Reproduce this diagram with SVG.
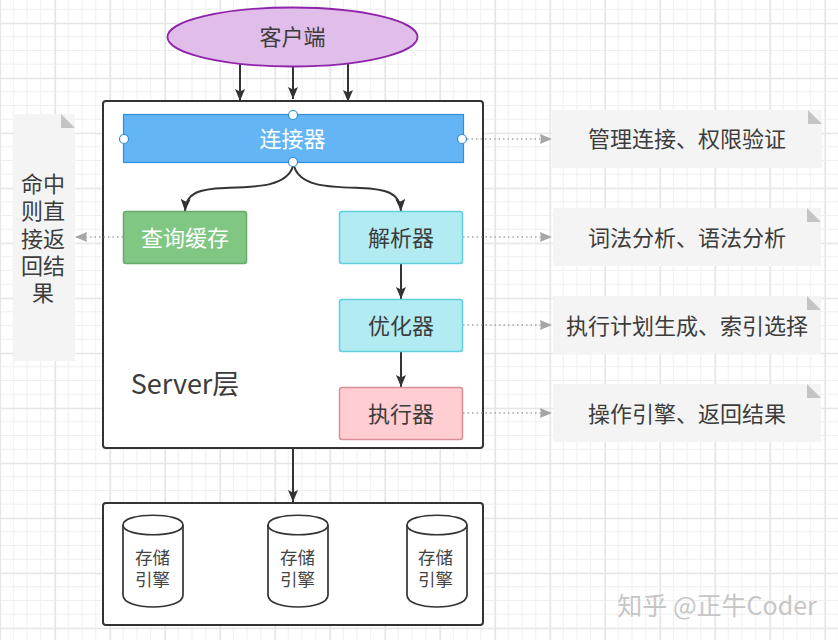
<svg xmlns="http://www.w3.org/2000/svg" width="838" height="640" viewBox="0 0 838 640">
<style>
text{font-family:"Noto Sans CJK SC","Liberation Sans",sans-serif;fill:#3c3c3c;text-anchor:middle}
.t{font-size:22px}.w{fill:#fff}.s{font-size:17.5px;fill:#444}
.n{font-family:"Liberation Sans","Noto Sans CJK SC",sans-serif}
.box{fill:#fff;stroke:#333;stroke-width:2}
.note{fill:#f4f4f4}.fold{fill:#c4c4c4}
.c{fill:none;stroke:#333;stroke-width:2}
.e{fill:none;stroke:#333;stroke-width:1.7}
.d{fill:none;stroke:#a6a6a6;stroke-width:1.5;stroke-dasharray:1.5 3}
.cyl{fill:#fff;stroke:#333;stroke-width:1.700}
.h{fill:#fff;stroke:#2f8fdc;stroke-width:1.2}
</style>
<defs>
<pattern id="g" width="13.75" height="13.75" patternUnits="userSpaceOnUse" y="-4">
<path d="M13.25 0V13.75M0 13.25H13.75" fill="none" stroke="#efefef" stroke-width="1"/>
</pattern>
<pattern id="G" width="55" height="55" patternUnits="userSpaceOnUse" y="23" x="0">
<path d="M0.500 0V55M0 0.500H55" fill="none" stroke="#e6e6e6" stroke-width="1.300"/>
</pattern>
<marker id="a" markerUnits="userSpaceOnUse" markerWidth="14" markerHeight="14" refX="12" refY="5" orient="auto"><path d="M0 0L12 5L0 10L2.500 5Z" fill="#333"/></marker>
<marker id="b" markerUnits="userSpaceOnUse" markerWidth="14" markerHeight="14" refX="12" refY="5" orient="auto"><path d="M0 0L12 5L0 10L1 5Z" fill="#a6a6a6"/></marker>
</defs>
<rect width="838" height="640" fill="#fff"/>
<rect width="838" height="640" fill="url(#g)"/>
<rect width="838" height="640" fill="url(#G)"/>

<g id="server"><rect class="box" x="103" y="101" width="380" height="347" rx="3"/><text x="185" y="394" style="font-size:27px">Server层</text></g>
<g id="storage"><rect class="box" x="103" y="503" width="380" height="122" rx="3"/></g>

<g id="connectors">
<path class="c" d="M240 64V101" marker-end="url(#a)"/>
<path class="c" d="M293 66V99" marker-end="url(#a)"/>
<path class="c" d="M348 64V102" marker-end="url(#a)"/>
<path class="c" d="M293 166C287 187 255 187 225 188C200 189 186 192 185 211" marker-end="url(#a)"/>
<path class="c" d="M294 166C300 187 330 187 360 188C385 189 400 192 401 211" marker-end="url(#a)"/>
<path class="c" d="M401 264V299" marker-end="url(#a)"/>
<path class="c" d="M401 352V387" marker-end="url(#a)"/>
<path class="c" d="M293 448V502" marker-end="url(#a)"/>
<path class="d" d="M123 237H75" marker-end="url(#b)"/>
<path class="d" d="M467 139H552" marker-end="url(#b)"/>
<path class="d" d="M463 237H552" marker-end="url(#b)"/>
<path class="d" d="M463 325H552" marker-end="url(#b)"/>
<path class="d" d="M463 413H552" marker-end="url(#b)"/>
</g>

<g id="client"><ellipse cx="292.500" cy="37" rx="125" ry="29.500" fill="#e1bde9" stroke="#8e24aa" stroke-width="1.800"/><text class="t" x="292.500" y="45">客户端</text></g>
<g id="connector"><rect x="123.500" y="114.500" width="340" height="48" fill="#64b5f6" stroke="#2f8fdc" stroke-width="1.200"/><text class="t w" x="292.500" y="147">连接器</text>
<circle class="h" cx="293" cy="115" r="4.500"/><circle class="h" cx="124" cy="139" r="4.500"/><circle class="h" cx="462" cy="139" r="4.500"/><circle class="h" cx="293" cy="162" r="4.500"/></g>
<g id="cache"><rect x="123.500" y="211.500" width="123" height="52" rx="2.500" fill="#81c784" stroke="#66a96a" stroke-width="1.500"/><text class="t w" x="185" y="246">查询缓存</text></g>
<g id="parser"><rect x="339.500" y="211.500" width="123" height="52" rx="2.500" fill="#b2ebf2" stroke="#5fd0dc" stroke-width="1.500"/><text class="t" x="401" y="246">解析器</text></g>
<g id="optimizer"><rect x="339.500" y="299.500" width="123" height="52" rx="2.500" fill="#b2ebf2" stroke="#5fd0dc" stroke-width="1.500"/><text class="t" x="401" y="334">优化器</text></g>
<g id="executor"><rect x="339.500" y="387.500" width="123" height="52" rx="2.500" fill="#ffcdd2" stroke="#d98f97" stroke-width="1.500"/><text class="t" x="401" y="422">执行器</text></g>

<g id="note-left"><rect class="note" x="13" y="114" width="62" height="247"/><path class="fold" d="M61 114L75 128H61Z"/>
<text class="t n" x="43" y="192">命中</text><text class="t n" x="43" y="219.300">则直</text><text class="t n" x="43" y="246.600">接返</text><text class="t n" x="43" y="273.900">回结</text><text class="t n" x="43" y="301.200">果</text></g>
<g id="note-1"><rect class="note" x="552" y="110" width="270" height="58"/><path class="fold" d="M808 110L822 124H808Z"/><text class="t" x="687" y="147">管理连接、权限验证</text></g>
<g id="note-2"><rect class="note" x="553" y="208" width="268" height="58"/><path class="fold" d="M807 208L821 222H807Z"/><text class="t" x="687" y="246">词法分析、语法分析</text></g>
<g id="note-3"><rect class="note" x="553" y="296" width="268" height="58"/><path class="fold" d="M807 296L821 310H807Z"/><text class="t" x="687" y="334">执行计划生成、索引选择</text></g>
<g id="note-4"><rect class="note" x="553" y="384" width="268" height="58"/><path class="fold" d="M807 384L821 398H807Z"/><text class="t" x="687" y="422">操作引擎、返回结果</text></g>

<g id="engine-1"><path class="cyl" d="M123 525C123 512 183 512 183 525V595C183 611 123 611 123 595Z"/><path class="e" d="M123 525C123 538 183 538 183 525"/><text class="s n" x="152.500" y="564">存储</text><text class="s n" x="152.500" y="586">引擎</text></g>
<g id="engine-2"><path class="cyl" d="M268 525C268 512 328 512 328 525V595C328 611 268 611 268 595Z"/><path class="e" d="M268 525C268 538 328 538 328 525"/><text class="s n" x="297.500" y="564">存储</text><text class="s n" x="297.500" y="586">引擎</text></g>
<g id="engine-3"><path class="cyl" d="M407 525C407 512 467 512 467 525V595C467 611 407 611 407 595Z"/><path class="e" d="M407 525C407 538 467 538 467 525"/><text class="s n" x="435.500" y="564">存储</text><text class="s n" x="435.500" y="586">引擎</text></g>

<text x="717" y="615" style="font-size:25px;fill:#c6c6c6">知乎 @正牛Coder</text>
</svg>
